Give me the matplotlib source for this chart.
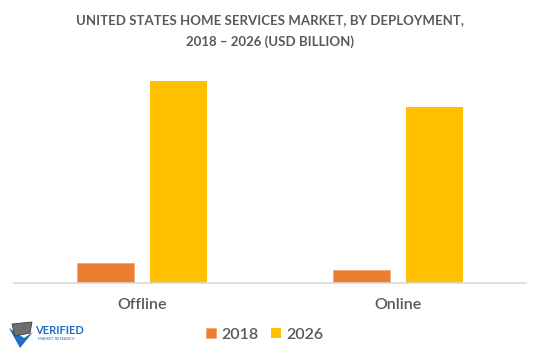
import matplotlib.pyplot as plt
import numpy as np
from matplotlib.patches import Polygon

categories = ['Offline', 'Online']
years = ['2018', '2026']
values_2018 = [2.0, 1.3]
values_2026 = [20.2, 17.6]
colors = ['#ED7D31', '#FFC000']

plt.rcParams['font.family'] = ['Lato', 'DejaVu Sans']

fig = plt.figure(figsize=(5.4, 3.57), dpi=100)
ax = fig.add_axes([14 / 540, 1 - 283 / 357, 512 / 540, 223 / 357])

x = np.arange(len(categories))
w = 0.223
off = 0.1426
ax.bar(x - off, values_2018, w, color=colors[0], edgecolor='#F4A774', linewidth=0.6, label=years[0])
ax.bar(x + off, values_2026, w, color=colors[1], label=years[1])

ax.set_xlim(-0.5, 1.5)
ax.set_ylim(0, 22.3)
ax.set_yticks([])
ax.set_xticks(x)
ax.set_xticklabels(categories, fontsize=11.5, color='#595959', fontweight='semibold')
ax.tick_params(axis='x', length=0, pad=11)
for s in ['top', 'right', 'left']:
    ax.spines[s].set_visible(False)
ax.spines['bottom'].set_color('#D9D9D9')
ax.spines['bottom'].set_linewidth(1.2)

fig.text(0.5, 1 - 20 / 357, 'UNITED STATES HOME SERVICES MARKET, BY DEPLOYMENT,',
         ha='center', va='center', fontsize=9.5, fontweight='bold', color='#595959')
fig.text(0.5, 1 - 42 / 357, '2018 \u2013 2026 (USD BILLION)',
         ha='center', va='center', fontsize=9.5, fontweight='bold', color='#595959')

leg = fig.legend(loc='center', bbox_to_anchor=(265 / 540, 1 - 335 / 357), ncol=2, frameon=False,
                 fontsize=11.5, labelcolor='#595959', handlelength=0.6, handleheight=0.6,
                 handletextpad=0.35, columnspacing=0.8)
for t in leg.get_texts():
    t.set_fontweight('semibold')

# logo
icon = Polygon([[9 / 540, 1 - 328 / 357], [20 / 540, 1 - 348 / 357], [33 / 540, 1 - 332 / 357],
                [24 / 540, 1 - 338 / 357]], closed=True, transform=fig.transFigure,
               facecolor='#1F6FC5', edgecolor='none')
fig.patches.append(icon)
screen = Polygon([[12 / 540, 1 - 324 / 357], [32 / 540, 1 - 322 / 357], [30 / 540, 1 - 333 / 357],
                  [15 / 540, 1 - 336 / 357]], closed=True, transform=fig.transFigure,
                 facecolor='#6E6E6E', edgecolor='#404040', linewidth=0.6)
fig.patches.append(screen)
fig.text(35 / 540, 1 - 330 / 357, 'VERIFIED', ha='left', va='center', fontsize=8,
         fontweight='bold', color='#1F6FC5')
fig.text(38 / 540, 1 - 339 / 357, 'MARKET RESEARCH', ha='left', va='center', fontsize=2.8,
         color='#1F6FC5')

fig.savefig('out.png', dpi=100)
